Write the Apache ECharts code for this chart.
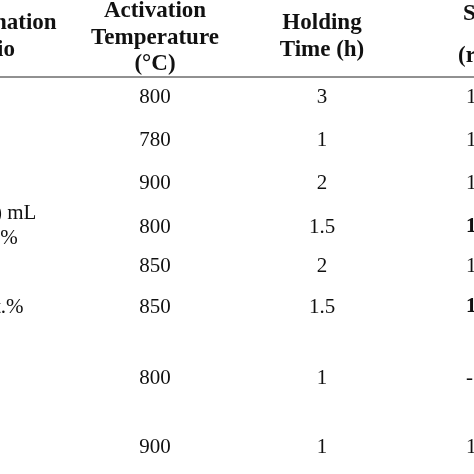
<!DOCTYPE html>
<html>
<head>
<meta charset="utf-8">
<script src="https://cdn.jsdelivr.net/npm/echarts@6/dist/echarts.min.js"></script>
<style>html,body{margin:0;padding:0;background:#fff}#main{width:474px;height:474px}</style>
</head>
<body>
<div id="main"></div>
<script>
// table data (cropped view of the original table)
var temperature = ['800', '780', '900', '800', '850', '850', '800', '900'];
var holdingTime = ['3', '1', '2', '1.5', '2', '1.5', '1', '1'];
var lastCol = ['1', '1', '1', '1', '13', '1', '-', '17'];
var lastBold = [false, false, false, true, false, true, false, false];
var ratioFragments = [
    {text: ') mL', row: 3, dy: -14},
    {text: '.%', row: 3, dy: 11},
    {text: 't.%', row: 5, dy: 0}
];
var rowY = [97, 140, 183, 227, 266, 307, 378, 447];

var chart = echarts.init(document.getElementById('main'));
var serif = '"Liberation Serif", "DejaVu Serif", serif';
var els = [];

function txt(x, y, s, opt) {
    opt = opt || {};
    els.push({
        type: 'text', x: x, y: y,
        style: {
            text: s, fill: '#111', font: (opt.bold ? 'bold ' : '') + (opt.size || 21) + 'px ' + serif,
            align: opt.align || 'center', verticalAlign: 'middle'
        }
    });
}

// header
txt(155, 11, 'Activation', {bold: true, size: 23});
txt(155, 38, 'Temperature', {bold: true, size: 23});
txt(155, 64, '(°C)', {bold: true, size: 23});
txt(322, 23, 'Holding', {bold: true, size: 23});
txt(322, 50, 'Time (h)', {bold: true, size: 23});
txt(-6, 23, 'nation', {bold: true, size: 23, align: 'left'});
txt(-3, 50, 'io', {bold: true, size: 23, align: 'left'});
txt(463, 14, 'S', {bold: true, size: 23, align: 'left'});
txt(458, 56, '(r', {bold: true, size: 23, align: 'left'});

// header rule
els.push({type: 'line', shape: {x1: 0, y1: 77, x2: 474, y2: 77}, style: {stroke: '#222', lineWidth: 1}});

// body rows
temperature.forEach(function (t, i) {
    txt(155, rowY[i], t);
    txt(322, rowY[i], holdingTime[i]);
    txt(466, rowY[i], lastCol[i], {align: 'left', bold: lastBold[i]});
});
lastCol.forEach(function (v, i) {
    if (v.length > 1) els[els.length - (lastCol.length - i) * 0] = els[els.length];
});
ratioFragments.forEach(function (f) {
    txt(-5, rowY[f.row] + f.dy, f.text, {align: 'left'});
});

chart.setOption({
    backgroundColor: '#fff',
    graphic: {elements: els.filter(Boolean)}
});
</script>
</body>
</html>
